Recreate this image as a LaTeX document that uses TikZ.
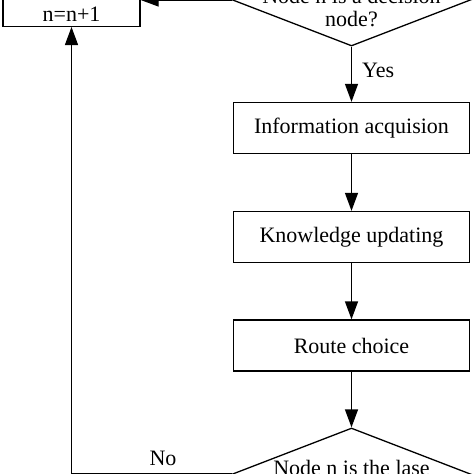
\documentclass[tikz,border=0pt]{standalone}
\usepackage{fontspec}
\setmainfont{Liberation Serif}
\usetikzlibrary{arrows.meta,shapes.geometric}
\begin{document}
\begin{tikzpicture}[x=1pt,y=1pt,
  every node/.style={font=\fontsize{22}{23}\selectfont},
  procbox/.style={draw,line width=1.3pt,minimum width=236pt,minimum height=51pt,inner sep=0pt},
  decision/.style={draw,diamond,line width=1.3pt,minimum width=238pt,minimum height=92pt,inner sep=0pt},
  flow/.style={line width=1.3pt,-{Triangle[length=18pt,width=13pt]}},
  lbl/.style={inner sep=0pt,anchor=base}
]
\useasboundingbox (0,0) rectangle (474,-474);
\node[draw,line width=1.3pt,minimum width=137pt,inner xsep=0pt,inner ysep=5pt,text height=40pt,text depth=0pt,anchor=south] (inc) at (71.5,-27) {n=n+1};
\node[decision] (d1) at (351.5,0) {};
\node[align=center,inner sep=0pt] (d1t) at (351.5,-8) {Node n is a decision\\node?};
\node[procbox] (info) at (351.5,-128) {Information acquision};
\node[procbox] (know) at (351.5,-237) {Knowledge updating};
\node[procbox] (route) at (351.5,-345.5) {Route choice};
\node[decision] (d2) at (351.5,-474) {};
\node[lbl] (d2t) at (351.5,-475) {Node n is the lase};
\node[lbl,anchor=base west] (yes) at (362,-77) {Yes};
\node[lbl] (no) at (163,-465) {No};
\draw[flow] (d1.west) -- (d1.west -| inc.east);
\draw[flow] (d1.south) -- (info.north);
\draw[flow] (info.south) -- (know.north);
\draw[flow] (know.south) -- (route.north);
\draw[flow] (route.south) -- (d2.north);
\draw[flow] (d2.west) -| (inc.south);
\end{tikzpicture}
\end{document}
